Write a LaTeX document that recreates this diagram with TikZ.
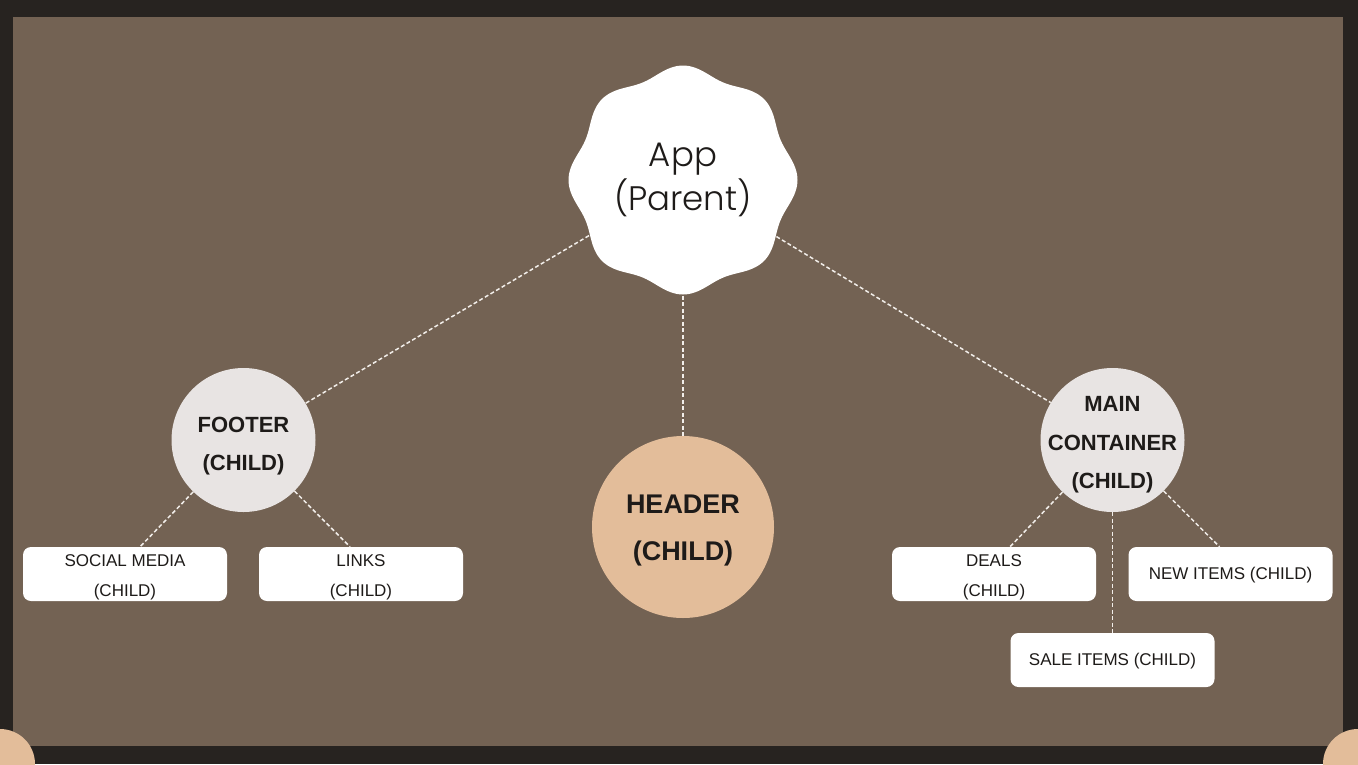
\documentclass[tikz,border=0pt]{standalone}
\usepackage{fontspec}
\setmainfont{Liberation Sans}
\newfontfamily\appfont{Poppins Light}
\definecolor{frame}{HTML}{272320}
\definecolor{brownbg}{HTML}{736253}
\definecolor{greycirc}{HTML}{E8E4E3}
\definecolor{peach}{HTML}{E3BD9A}
\definecolor{dashcol}{HTML}{F2EEEA}
\definecolor{txt}{HTML}{1E1B19}
\tikzset{
  childcirc/.style={circle, fill=greycirc, draw=none, minimum size=144pt, inner sep=0pt},
  headcirc/.style={circle, fill=peach, draw=none, minimum size=182pt, inner sep=0pt},
  circtext/.style={align=center, text=txt, inner sep=0pt, font=\fontsize{22}{38.5}\selectfont\bfseries},
  headtext/.style={align=center, text=txt, inner sep=0pt, font=\fontsize{27}{47}\selectfont\bfseries},
  leafbox/.style={rectangle, rounded corners=8pt, fill=white, draw=none, minimum width=204pt, minimum height=54pt,
    inner sep=0pt},
  leaftext/.style={align=center, text=txt, inner sep=0pt, font=\fontsize{17}{30}\selectfont},
  conn/.style={draw=dashcol, line width=1.5pt, dash pattern=on 4pt off 2.5pt},
}
\begin{document}
\begin{tikzpicture}[x=1pt,y=-1pt]
\useasboundingbox (0,0) rectangle (1358,764);
\fill[frame] (0,0) rectangle (1358,764);
\fill[brownbg] (13,17) rectangle (1343,746);
\fill[peach] (0,764) circle (35);
\fill[peach] (1358,764) circle (35);

% nodes
\node[circle, minimum size=218pt, inner sep=0pt] (app) at (683,180) {};
\node[childcirc] (footer) at (243.5,440) {};
\node[headcirc] (header) at (683,527) {};
\node[childcirc] (main) at (1112.5,440) {};
\node[leafbox] (social) at (125,574) {};
\node[leafbox] (links) at (361,574) {};
\node[leafbox] (deals) at (994,574) {};
\node[leafbox] (newitems) at (1230.5,574) {};
\node[leafbox] (sale) at (1112.5,660) {};

% connectors
\draw[conn] (app) -- (footer);
\draw[conn] (app.south) -- (header.north);
\draw[conn] (app) -- (main);
\draw[conn] (footer) -- ([xshift=15pt]social.north);
\draw[conn] (footer) -- ([xshift=-11pt]links.north);
\draw[conn] (main) -- ([xshift=16pt]deals.north);
\draw[conn] (main.south) -- (sale.north);
\draw[conn] (main) -- ([xshift=-11pt]newitems.north);

% wavy parent shape
\fill[white] plot[smooth cycle, domain=0:357.5, samples=144, variable=\t]
  ({683+(110+4.5*cos(8*\t))*cos(\t)}, {180-(110+4.5*cos(8*\t))*sin(\t)});

% texts
\node[align=center, text=txt, inner sep=0pt, font=\appfont\fontsize{34}{44}\selectfont] (apptext) at (683,180) {App\\(Parent)};
\node[circtext] (footertext) at (243.5,446) {FOOTER\\(CHILD)};
\node[headtext] (headertext) at (683,531) {HEADER\\(CHILD)};
\node[circtext] (maintext) at (1112.5,445) {MAIN\\CONTAINER\\(CHILD)};
\node[leaftext] (socialtext) at (125,577) {SOCIAL MEDIA\\(CHILD)};
\node[leaftext] (linkstext) at (361,577) {LINKS\\(CHILD)};
\node[leaftext] (dealstext) at (994,577) {DEALS\\(CHILD)};
\node[leaftext] (newitemstext) at (1230.5,575) {NEW ITEMS (CHILD)};
\node[leaftext] (saletext) at (1112.5,661) {SALE ITEMS (CHILD)};
\end{tikzpicture}
\end{document}
